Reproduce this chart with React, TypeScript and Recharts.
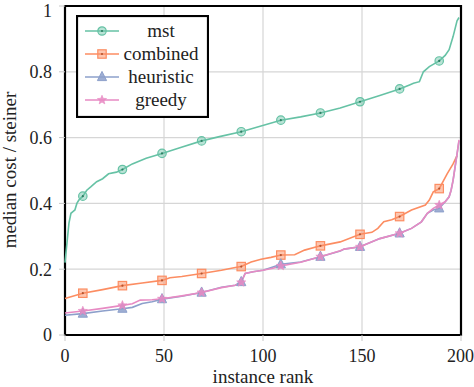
import React from 'react'
import {
  LineChart,
  Line,
  XAxis,
  YAxis,
  CartesianGrid,
  ReferenceArea,
  Label,
} from 'recharts'

// series (rank -> median cost / steiner)
const mstRanks = [0, 1, 2, 3, 4, 5, 6, 7, 9, 11, 13, 16, 19, 22, 26, 29, 34, 41, 49, 58, 69, 78, 89, 99, 109, 119, 129, 139, 149, 159, 169, 174, 176, 179, 181, 184, 189, 192, 194, 196, 198, 199]
const mstValues = [0.22, 0.28, 0.34, 0.37, 0.375, 0.38, 0.4, 0.41, 0.422, 0.44, 0.45, 0.466, 0.475, 0.49, 0.495, 0.503, 0.52, 0.537, 0.552, 0.569, 0.59, 0.603, 0.618, 0.635, 0.653, 0.663, 0.675, 0.69, 0.709, 0.728, 0.748, 0.76, 0.765, 0.77, 0.8, 0.816, 0.833, 0.85, 0.867, 0.907, 0.955, 0.965]

const combinedRanks = [0, 9, 19, 29, 39, 49, 53, 59, 69, 79, 86, 89, 94, 99, 104, 109, 116, 121, 129, 139, 149, 155, 158, 161, 165, 169, 175, 182, 184, 186, 189, 193, 196, 198]
const combinedValues = [0.111, 0.127, 0.138, 0.15, 0.158, 0.166, 0.174, 0.178, 0.187, 0.197, 0.205, 0.208, 0.222, 0.23, 0.236, 0.243, 0.244, 0.258, 0.271, 0.283, 0.306, 0.312, 0.324, 0.344, 0.35, 0.36, 0.38, 0.395, 0.41, 0.435, 0.445, 0.49, 0.52, 0.545]

const heuristicRanks = [0, 9, 19, 29, 34, 39, 44, 49, 59, 69, 79, 86, 89, 91, 95, 100, 105, 109, 119, 129, 139, 141, 149, 159, 169, 175, 180, 183, 186, 189, 192, 194, 195, 196, 197, 198, 199]
const heuristicValues = [0.06, 0.065, 0.073, 0.08, 0.084, 0.096, 0.101, 0.109, 0.118, 0.129, 0.145, 0.151, 0.161, 0.187, 0.192, 0.197, 0.207, 0.215, 0.222, 0.238, 0.255, 0.261, 0.268, 0.293, 0.309, 0.324, 0.344, 0.37, 0.38, 0.385, 0.405, 0.42, 0.44, 0.47, 0.51, 0.55, 0.59]

const greedyRanks = [0, 9, 19, 29, 34, 38, 44, 49, 59, 69, 79, 86, 89, 91, 95, 100, 105, 109, 119, 129, 139, 141, 149, 159, 169, 175, 180, 183, 186, 189, 192, 194, 195, 196, 197, 198, 199]
const greedyValues = [0.067, 0.073, 0.081, 0.09, 0.095, 0.106, 0.107, 0.11, 0.119, 0.129, 0.144, 0.151, 0.16, 0.187, 0.192, 0.197, 0.203, 0.21, 0.221, 0.238, 0.256, 0.261, 0.268, 0.293, 0.309, 0.324, 0.344, 0.37, 0.385, 0.395, 0.405, 0.42, 0.44, 0.47, 0.51, 0.55, 0.593]

const markerRanks = [9, 29, 49, 69, 89, 109, 129, 149, 169, 189]
const xTicks = [0, 50, 100, 150, 200]
const yTicks = [0, 0.2, 0.4, 0.6, 0.8, 1]

const FONT = 'Liberation Serif, DejaVu Serif, serif'

const toPoints = (ranks: number[], values: number[]) =>
  ranks.map((rank, i) => ({ rank, value: values[i] }))

const series = [
  { name: 'mst', color: '#66c2a5', shape: 'circle', data: toPoints(mstRanks, mstValues) },
  { name: 'combined', color: '#fc8d62', shape: 'square', data: toPoints(combinedRanks, combinedValues) },
  { name: 'heuristic', color: '#8da0cb', shape: 'triangle', data: toPoints(heuristicRanks, heuristicValues) },
  { name: 'greedy', color: '#e78ac3', shape: 'star', data: toPoints(greedyRanks, greedyValues) },
]

function Marker({ cx, cy, shape, color }: { cx: number; cy: number; shape: string; color: string }) {
  if (shape === 'circle') {
    return (
      <g>
        <circle cx={cx} cy={cy} r={4.2} fill={color} fillOpacity={0.45} stroke={color} strokeWidth={1.2} />
        <circle cx={cx} cy={cy} r={1.1} fill="#2e7d63" />
      </g>
    )
  }
  if (shape === 'square') {
    return (
      <g>
        <rect x={cx - 4.2} y={cy - 4.2} width={8.4} height={8.4} fill={color} fillOpacity={0.5} stroke={color} strokeWidth={1.2} />
        <circle cx={cx} cy={cy} r={1.1} fill="#b5532e" />
      </g>
    )
  }
  if (shape === 'triangle') {
    const h = 4.6
    return (
      <polygon
        points={`${cx},${cy - h - 1} ${cx - h},${cy + h - 1} ${cx + h},${cy + h - 1}`}
        fill={color}
        fillOpacity={0.85}
        stroke={color}
      />
    )
  }
  // star
  const pts: string[] = []
  for (let k = 0; k < 10; k++) {
    const r = k % 2 === 0 ? 4.8 : 2.1
    const a = -Math.PI / 2 + (k * Math.PI) / 5
    pts.push(`${cx + r * Math.cos(a)},${cy + r * Math.sin(a)}`)
  }
  return <polygon points={pts.join(' ')} fill={color} fillOpacity={0.85} stroke={color} strokeWidth={0.6} />
}

function LegendBox() {
  return (
    <svg width={133} height={103} style={{ position: 'absolute', left: 76, top: 15 }}>
      <rect x={1} y={1} width={131} height={101} fill="#fff" stroke="#000" strokeWidth={2.2} />
      {series.map((s, i) => {
        const cy = 16 + i * 23
        return (
          <g key={s.name}>
            <line x1={9} y1={cy} x2={43} y2={cy} stroke={s.color} strokeWidth={1.6} />
            <Marker cx={26} cy={cy} shape={s.shape} color={s.color} />
            <text x={85} y={cy + 6} textAnchor="middle" fontFamily={FONT} fontSize={19} fill="#222">
              {s.name}
            </text>
          </g>
        )
      })}
    </svg>
  )
}

export default function App() {
  return (
    <div style={{ position: 'absolute', left: 0, top: 0, width: 474, height: 387, background: '#fff' }}>
      <LineChart width={474} height={387} margin={{ top: 6, right: 13, bottom: 0, left: 0 }}>
        <CartesianGrid stroke="#d6d6d6" strokeWidth={1.2} />
        <XAxis
          dataKey="rank"
          type="number"
          domain={[0, 200]}
          ticks={xTicks}
          allowDuplicatedCategory={false}
          height={52}
          axisLine={false}
          tickLine={{ stroke: '#c8c8c8' }}
          tickSize={6}
          tickMargin={8}
          tick={{ fill: '#222', fontSize: 18, fontFamily: FONT }}
        >
          <Label
            content={() => (
              <text x={263} y={383} textAnchor="middle" fill="#222" fontSize={19} fontFamily={FONT}>
                instance rank
              </text>
            )}
          />
        </XAxis>
        <YAxis
          type="number"
          domain={[0, 1]}
          ticks={yTicks}
          width={65}
          axisLine={false}
          tickLine={{ stroke: '#c8c8c8' }}
          tickSize={6}
          tickMargin={7}
          tickFormatter={(v: number) => String(v)}
          tick={{ fill: '#222', fontSize: 18, fontFamily: FONT }}
        >
          <Label
            content={() => (
              <text
                x={16}
                y={170}
                transform="rotate(-90 16 170)"
                textAnchor="middle"
                fill="#222"
                fontSize={19}
                fontFamily={FONT}
              >
                median cost / steiner
              </text>
            )}
          />
        </YAxis>
        <ReferenceArea x1={0} x2={200} y1={0} y2={1} fill="none" stroke="#000" strokeWidth={2.2} ifOverflow="visible" />
        {series.map((s) => (
          <Line
            key={s.name}
            data={s.data}
            dataKey="value"
            name={s.name}
            type="linear"
            stroke={s.color}
            strokeWidth={1.6}
            isAnimationActive={false}
            activeDot={false}
            dot={(p: any) =>
              markerRanks.includes(p.payload.rank) ? (
                <Marker key={`${s.name}-${p.index}`} cx={p.cx} cy={p.cy} shape={s.shape} color={s.color} />
              ) : (
                <g key={`${s.name}-${p.index}`} />
              )
            }
          />
        ))}
      </LineChart>
      <LegendBox />
    </div>
  )
}
